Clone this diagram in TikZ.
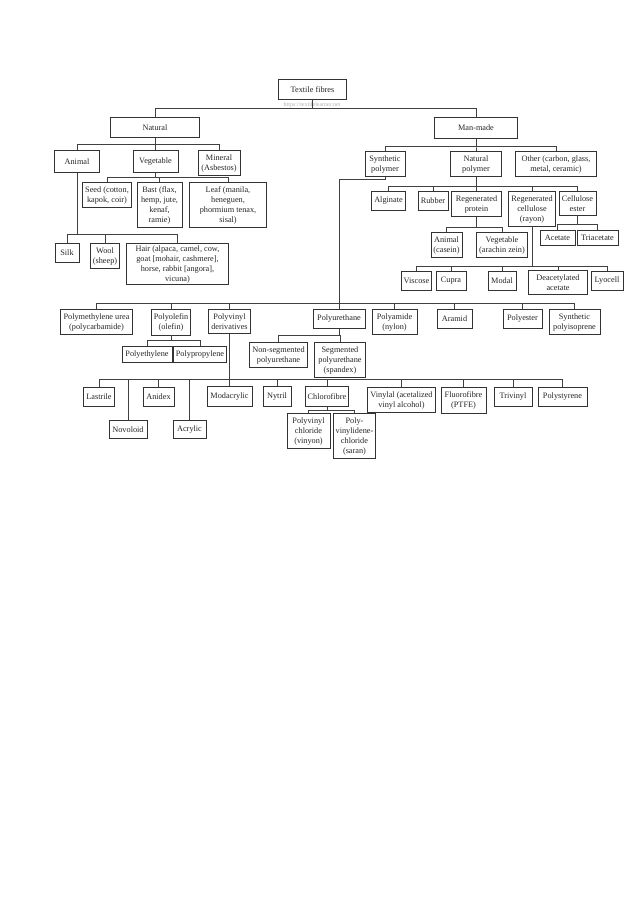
\documentclass[tikz,border=0pt]{standalone}
\usepackage{fontspec}
\setmainfont{Liberation Serif}

\tikzset{
  box/.style={draw=black!80, line width=0.8bp, anchor=north, align=center,
    inner xsep=2.5bp, inner ysep=4bp, minimum height=19bp,
    font=\fontsize{8.3}{10}\selectfont, text=black!85},
  link/.style={draw=black!75, line width=0.8bp}
}

\begin{document}
\begin{tikzpicture}[x=1bp,y=-1bp]
  \fill[white] (0,0) rectangle (638,902);
  \useasboundingbox (0,0) rectangle (638,902);

  % top levels
  \node[box, minimum width=69, minimum height=20] (tf) at (312.5,79) {Textile fibres};
  \node[text=black!30, font=\fontsize{6}{7}\selectfont, inner sep=0pt] (wm) at (312,105.5) {https://textilelearner.net};
  \node[box, minimum width=90, minimum height=20] (natural) at (155,117) {Natural};
  \node[box, minimum width=84, minimum height=21] (manmade) at (476,117) {Man-made};

  % natural fibres
  \node[box, minimum width=45, minimum height=22] (animal) at (77,150) {Animal};
  \node[box, minimum width=45, minimum height=22] (vegetable) at (155.5,150) {Vegetable};
  \node[box, minimum width=42] (mineral) at (219,150) {Mineral\\(Asbestos)};

  \node[box, minimum width=48] (seed) at (107,182) {Seed (cotton,\\kapok, coir)};
  \node[box, minimum width=45] (bast) at (159.5,182) {Bast (flax,\\hemp, jute,\\kenaf,\\ramie)};
  \node[box, minimum width=78] (leaf) at (228,182) {Leaf (manila,\\heneguen,\\phormium tenax,\\sisal)};

  \node[box, minimum width=24] (silk) at (67,243) {Silk};
  \node[box, minimum width=26] (wool) at (105,243) {Wool\\(sheep)};
  \node[box, minimum width=103, inner ysep=2bp] (hair) at (177.5,243) {Hair (alpaca, camel, cow,\\goat [mohair, cashmere],\\horse, rabbit [angora],\\vicuna)};

  % man-made fibres
  \node[box, minimum width=40] (synth) at (385,151) {Synthetic\\polymer};
  \node[box, minimum width=51] (natpoly) at (476,151) {Natural\\polymer};
  \node[box, minimum width=82] (other) at (556,151) {Other (carbon, glass,\\metal, ceramic)};

  \node[box, minimum width=33] (alginate) at (388.5,191) {Alginate};
  \node[box, minimum width=30] (rubber) at (433,191) {Rubber};
  \node[box, minimum width=50] (regprot) at (476.5,191) {Regenerated\\protein};
  \node[box, minimum width=46] (regcell) at (532,191) {Regenerated\\cellulose\\(rayon)};
  \node[box, minimum width=37] (cellester) at (577.5,191) {Cellulose\\ester};

  \node[box, minimum width=31] (casein) at (446.5,232) {Animal\\(casein)};
  \node[box, minimum width=50] (zein) at (502,232) {Vegetable\\(arachin zein)};
  \node[box, minimum width=35, minimum height=15, inner ysep=2bp] (acetate) at (557.5,230) {Acetate};
  \node[box, minimum width=41, minimum height=15, inner ysep=2bp] (triacetate) at (597.5,230) {Triacetate};

  \node[box, minimum width=28] (viscose) at (416.5,271) {Viscose};
  \node[box, minimum width=30] (cupra) at (451,271) {Cupra};
  \node[box, minimum width=28] (modal) at (502,271) {Modal};
  \node[box, minimum width=60] (deacet) at (558,270) {Deacetylated\\acetate};
  \node[box, minimum width=32] (lyocell) at (607,271) {Lyocell};

  % synthetic polymers
  \node[box, minimum width=73] (pmu) at (96.5,309) {Polymethylene urea\\(polycarbamide)};
  \node[box, minimum width=38] (polyolefin) at (171,309) {Polyolefin\\(olefin)};
  \node[box, minimum width=41] (polyvinyl) at (229.5,309) {Polyvinyl\\derivatives};
  \node[box, minimum width=52] (polyurethane) at (339,309) {Polyurethane};
  \node[box, minimum width=45] (polyamide) at (394.5,309) {Polyamide\\(nylon)};
  \node[box, minimum width=35] (aramid) at (454.5,309) {Aramid};
  \node[box, minimum width=39] (polyester) at (522.5,309) {Polyester};
  \node[box, minimum width=51] (polyisoprene) at (574.5,309) {Synthetic\\polyisoprene};

  \node[box, minimum width=50, minimum height=16, inner ysep=2.5bp] (polyethylene) at (147,346) {Polyethylene};
  \node[box, minimum width=52, minimum height=16, inner ysep=2.5bp] (polypropylene) at (200,346) {Polypropylene};

  \node[box, minimum width=59] (nonseg) at (278.5,342) {Non-segmented\\polyurethane};
  \node[box, minimum width=51] (seg) at (340,342) {Segmented\\polyurethane\\(spandex)};

  % polyvinyl derivatives
  \node[box, minimum width=30] (lastrile) at (99,387) {Lastrile};
  \node[box, minimum width=38, minimum height=18] (novoloid) at (128,420) {Novoloid};
  \node[box, minimum width=31] (anidex) at (158.5,387) {Anidex};
  \node[box, minimum width=33, minimum height=18] (acrylic) at (189.5,420) {Acrylic};
  \node[box, minimum width=45, minimum height=20] (modacrylic) at (229.5,386) {Modacrylic};
  \node[box, minimum width=28, minimum height=20] (nytril) at (277,386) {Nytril};
  \node[box, minimum width=42, minimum height=20] (chlorofibre) at (327,386) {Chlorofibre};
  \node[box, minimum width=69] (vinylal) at (401.5,387) {Vinylal (acetalized\\vinyl alcohol)};
  \node[box, minimum width=45] (fluorofibre) at (463.5,387) {Fluorofibre\\(PTFE)};
  \node[box, minimum width=38] (trivinyl) at (513,387) {Trivinyl};
  \node[box, minimum width=49] (polystyrene) at (562.5,387) {Polystyrene};

  \node[box, minimum width=43] (pvc) at (308.5,413) {Polyvinyl\\chloride\\(vinyon)};
  \node[box, minimum width=41] (pvdc) at (354.5,413) {Poly-\\vinylidene-\\chloride\\(saran)};

  % bus levels
  \coordinate (tfbus) at (0,108);
  \coordinate (natbus) at (0,144);
  \coordinate (vegbus) at (0,177);
  \coordinate (anibus) at (0,234);
  \coordinate (manbus) at (0,146);
  \coordinate (npbus) at (0,186);
  \coordinate (protbus) at (0,227);
  \coordinate (esterbus) at (0,224);
  \coordinate (rayonbus) at (0,266);
  \coordinate (synbus) at (0,303);
  \coordinate (olefbus) at (0,340);
  \coordinate (purbus) at (0,335);
  \coordinate (pvbus) at (0,379);
  \coordinate (chlorbus) at (0,410);

  % connectors
  \foreach \nm in {natural,manmade}
    \draw[link] (tf.south) |- (\nm.north |- tfbus) -- (\nm.north);
  \foreach \nm in {animal,vegetable,mineral}
    \draw[link] (natural.south) |- (\nm.north |- natbus) -- (\nm.north);
  \foreach \nm in {seed,bast,leaf}
    \draw[link] (vegetable.south) |- (\nm.north |- vegbus) -- (\nm.north);
  \foreach \nm in {silk,wool,hair}
    \draw[link] (animal.south) |- (\nm.north |- anibus) -- (\nm.north);
  \foreach \nm in {synth,natpoly,other}
    \draw[link] (manmade.south) |- (\nm.north |- manbus) -- (\nm.north);
  \foreach \nm in {alginate,rubber,regprot,regcell,cellester}
    \draw[link] (natpoly.south) |- (\nm.north |- npbus) -- (\nm.north);
  \foreach \nm in {casein,zein}
    \draw[link] (regprot.south) |- (\nm.north |- protbus) -- (\nm.north);
  \foreach \nm in {acetate,triacetate}
    \draw[link] (cellester.south) |- (\nm.north |- esterbus) -- (\nm.north);
  \foreach \nm in {viscose,cupra,modal,deacet,lyocell}
    \draw[link] (regcell.south) |- (\nm.north |- rayonbus) -- (\nm.north);

  \draw[link] (synth.south) -- ++(0,2) -| (polyurethane.north);
  \foreach \nm in {pmu,polyolefin,polyvinyl,polyamide,aramid,polyester,polyisoprene}
    \draw[link] (polyurethane.north |- synbus) -| (\nm.north);
  \foreach \nm in {polyethylene,polypropylene}
    \draw[link] (polyolefin.south) |- (\nm.north |- olefbus) -- (\nm.north);
  \foreach \nm in {nonseg,seg}
    \draw[link] (polyurethane.south) |- (\nm.north |- purbus) -- (\nm.north);
  \foreach \nm in {lastrile,novoloid,anidex,acrylic,modacrylic,nytril,chlorofibre,vinylal,fluorofibre,trivinyl,polystyrene}
    \draw[link] (polyvinyl.south) |- (\nm.north |- pvbus) -- (\nm.north);
  \foreach \nm in {pvc,pvdc}
    \draw[link] (chlorofibre.south) |- (\nm.north |- chlorbus) -- (\nm.north);
\end{tikzpicture}
\end{document}
